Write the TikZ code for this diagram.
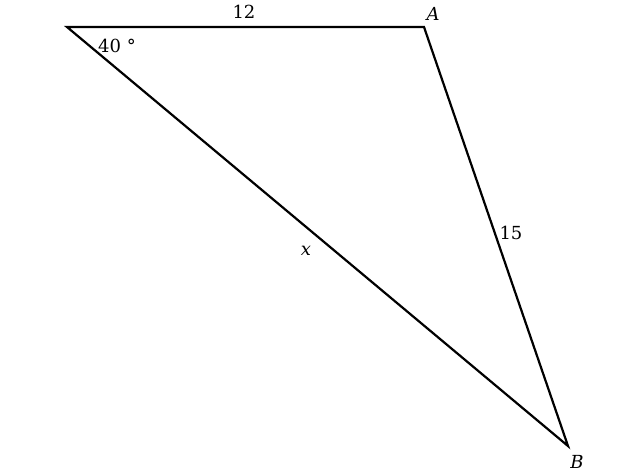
\documentclass[tikz,border=0pt]{standalone}
\usepackage{fontspec}
\setmainfont{DejaVu Serif}
\tikzset{
  lbl/.style={inner sep=0pt, font=\fontsize{18}{21}\selectfont},
  pt/.style={inner sep=0pt, minimum size=0pt}
}
\begin{document}
\begin{tikzpicture}[x=1pt,y=-1pt]
      \useasboundingbox (0,0) rectangle (641,474);
      \draw
        (67,27) node[pt] (C){}
        (424,27) node[pt] (A){}
        (568,446) node[pt] (B){};
      \begin{scope}[line width=2.2pt, line join=miter]
        \draw (C.center) -- (A.center) -- (B.center) -- cycle;
      \end{scope}
      \node[lbl] (a) at (433,14) {\itshape A};
      \node[lbl] (b) at (577,462) {\itshape B};
      \node[lbl] (ca) at (244,12) {12};
      \node[lbl] (ab) at (511,233) {15};
      \node[lbl] (bc) at (306,251) {\itshape x};
      \node[lbl] (ang) at (117,46) {40 °};
    \end{tikzpicture}
\end{document}
